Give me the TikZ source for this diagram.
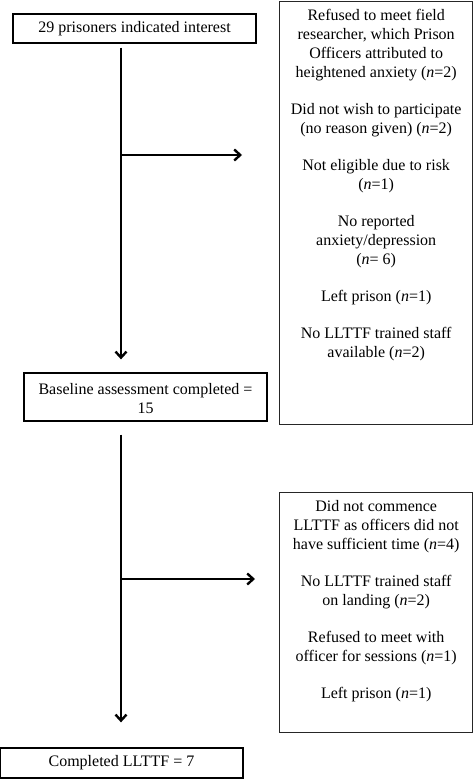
\documentclass[tikz,border=0pt]{standalone}
\usepackage{fontspec}
\setmainfont{Liberation Serif}
\usetikzlibrary{arrows.meta,calc}
\begin{document}
\begin{tikzpicture}[x=1pt,y=-1pt,
  font=\fontsize{16}{19}\selectfont,
  flowbox/.style={draw=black,line width=1.3pt,rectangle,minimum width=243pt,inner sep=0pt,align=center},
  exbox/.style={draw=black!85,line width=1.4pt,rectangle,minimum width=193pt,inner sep=0pt,anchor=north west},
  extext/.style={anchor=north,align=center,inner sep=0pt},
  arr/.style={line width=2.4pt,-{Straight Barb[length=6pt,width=11pt]}}]
\useasboundingbox (0,0) rectangle (474,779);
\node[flowbox,minimum height=29pt] (top) at (134.5,28.5) {29 prisoners indicated interest};
\node[flowbox,minimum height=48pt] (base) at (145.5,397) {\rule{0pt}{15pt}Baseline assessment completed =\\15};
\node[flowbox,minimum height=30pt] (done) at (121.5,763) {Completed LLTTF = 7};
\node[exbox,minimum height=423pt] (ex1) at (279,1) {};
\node[exbox,minimum height=240pt] (ex2) at (279,492) {};
\node[extext] (ex1t) at ($(ex1.north)+(0,8)$) {Refused to meet field\\researcher, which Prison\\Officers attributed to\\heightened anxiety (\textit{n}=2)\\[18pt]
Did not wish to participate\\(no reason given) (\textit{n}=2)\\[18pt]
Not eligible due to risk\\(\textit{n}=1)\\[18pt]
No reported\\anxiety/depression\\(\textit{n}= 6)\\[18pt]
Left prison (\textit{n}=1)\\[18pt]
No LLTTF trained staff\\available (\textit{n}=2)};
\node[extext] (ex2t) at ($(ex2.north)+(0,8)$) {Did not commence\\LLTTF as officers did not\\have sufficient time (\textit{n}=4)\\[18pt]
No LLTTF trained staff\\on landing (\textit{n}=2)\\[18pt]
Refused to meet with\\officer for sessions (\textit{n}=1)\\[18pt]
Left prison (\textit{n}=1)};
\coordinate (vx) at (121,0);
\coordinate (b1) at (121,155);
\coordinate (b2) at (121,579);
\coordinate (t1) at (242,155);
\coordinate (t2) at (255,579);
\draw[arr] ($(top.south -| vx)+(0,4)$) -- ($(base.north -| vx)+(0,-13)$);
\draw[arr] ($(base.south -| vx)+(0,13)$) -- ($(done.north -| vx)+(0,-25)$);
\draw[arr] (b1) -- (t1);
\draw[arr] (b2) -- (t2);
\end{tikzpicture}
\end{document}
